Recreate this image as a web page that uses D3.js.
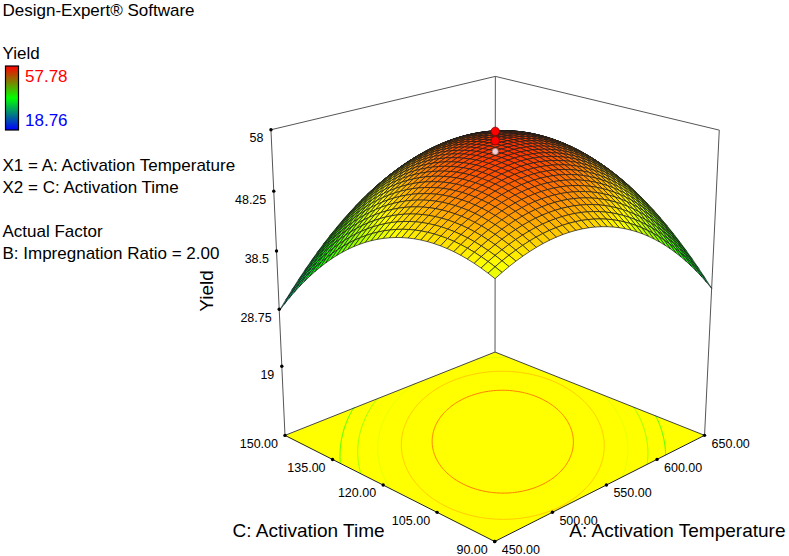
<!DOCTYPE html>
<html><head><meta charset="utf-8">
<script src="https://cdn.jsdelivr.net/npm/d3@7"></script>
<style>body{margin:0;background:#fff}svg{display:block}text{font-family:"Liberation Sans",Arial,sans-serif}</style>
</head><body>
<script>
// ---------------- data ----------------
const tempTicks = [450, 500, 550, 600, 650];
const tempTickLabels = ["450.00", "500.00", "550.00", "600.00", "650.00"];
const timeTicks = [90, 105, 120, 135, 150];
const timeTickLabels = ["90.00", "105.00", "120.00", "135.00", "150.00"];
const yieldTicks = [19, 28.75, 38.5, 48.25, 58];
const yieldTickLabels = ["19", "28.75", "38.5", "48.25", "58"];
// quadratic model in coded units (A, C in [-1, 1])
const modelTerms = ["Intercept", "A", "C", "AC", "A^2", "C^2"];
const modelCoefs = [55.8, 0.65, -1.25, 7.9, -8.75, -8.75];
// design points visible at the centre
const pointTemp = [550, 550, 550];
const pointTime = [120, 120, 120];
const pointYield = [57.78, 56.3, 54.6];
const contourLevels = [41, 44, 47, 50, 53];
const legendRange = [18.76, 57.78];
const floorYield = 6.8;
const infoLines = ["X1 = A: Activation Temperature", "X2 = C: Activation Time"];
const factorLines = ["Actual Factor", "B: Impregnation Ratio = 2.00"];

// ---------------- view calibration (cube corners -> screen) ----------------
const viewAnchors = [
  [0, 0, 0, 495, 541.7], [0, 1, 0, 284.7, 435], [1, 0, 0, 704.3, 435.3], [1, 1, 0, 495.3, 352.3],
  [0, 1, 1, 271, 130], [1, 0, 1, 719.3, 130], [1, 1, 1, 495.3, 76.3]
];
function solveLinear(M, b) {
  const n = b.length, A = M.map((r, i) => r.concat([b[i]]));
  for (let c = 0; c < n; c++) {
    let p = c; for (let r = c + 1; r < n; r++) if (Math.abs(A[r][c]) > Math.abs(A[p][c])) p = r;
    [A[c], A[p]] = [A[p], A[c]];
    for (let r = 0; r < n; r++) if (r !== c) {
      const f = A[r][c] / A[c][c];
      for (let k = c; k <= n; k++) A[r][k] -= f * A[c][k];
    }
  }
  return A.map((r, i) => r[n] / r[i]);
}
const rows = [], rhs = [];
viewAnchors.forEach(([X, Y, Z, x, y]) => {
  rows.push([X, Y, Z, 1, 0, 0, 0, 0, -x * X, -x * Y, -x * Z]); rhs.push(x);
  rows.push([0, 0, 0, 0, X, Y, Z, 1, -y * X, -y * Y, -y * Z]); rhs.push(y);
});
const NtN = d3.range(11).map(i => d3.range(11).map(j => d3.sum(rows, r => r[i] * r[j])));
const Ntb = d3.range(11).map(i => d3.sum(rows, (r, k) => r[i] * rhs[k]));
const P = solveLinear(NtN, Ntb);
function project(X, Y, Z) {
  const w = P[8] * X + P[9] * Y + P[10] * Z + 1;
  return [(P[0] * X + P[1] * Y + P[2] * Z + P[3]) / w, (P[4] * X + P[5] * Y + P[6] * Z + P[7]) / w, w];
}

// ---------------- scales ----------------
const xA = d3.scaleLinear().domain([450, 650]).range([0, 1]);
const yC = d3.scaleLinear().domain([90, 150]).range([0, 1]);
const zY = d3.scaleLinear().domain([floorYield, 58]).range([0, 1]);
const codeA = d3.scaleLinear().domain([450, 650]).range([-1, 1]);
const codeC = d3.scaleLinear().domain([90, 150]).range([-1, 1]);
const colorT = d3.scaleLinear().domain(legendRange).range([0, 1]).clamp(true);
const hueColor = v => d3.hsl(240 * (1 - colorT(v)), 1, 0.5).toString();
function model(A, C) {
  const a = codeA(A), c = codeC(C), b = modelCoefs;
  return b[0] + b[1] * a + b[2] * c + b[3] * a * c + b[4] * a * a + b[5] * c * c;
}
const pt = (A, C, Yv) => project(xA(A), yC(C), zY(Yv));

const svg = d3.select("body").append("svg").attr("width", 789).attr("height", 556);
const line = d3.line();

// ---------------- floor ----------------
const Fc = pt(450, 90, floorYield), Lc = pt(450, 150, floorYield), Rc = pt(650, 90, floorYield), Bc = pt(650, 150, floorYield);
svg.append("path").attr("d", line([Fc, Lc, Bc, Rc]) + "Z").attr("fill", "#ffff00").attr("stroke", "none");

// floor contours
const n = 121;
const gridVals = [];
const sA = d3.scaleLinear().domain([0.5, n - 0.5]).range([450, 650]).clamp(true);
const sC = d3.scaleLinear().domain([0.5, n - 0.5]).range([90, 150]).clamp(true);
for (let j = 0; j < n; j++) for (let i = 0; i < n; i++) gridVals.push(model(sA(i + 0.5), sC(j + 0.5)));
const contours = d3.contours().size([n, n]).thresholds(contourLevels)(gridVals);
contours.forEach(cg => {
  let d = "";
  cg.coordinates.forEach(poly => poly.forEach(ring => {
    let pen = false;
    for (let k = 1; k < ring.length; k++) {
      const p0 = ring[k - 1], p1 = ring[k];
      const onB = (p0[0] <= 0 && p1[0] <= 0) || (p0[0] >= n && p1[0] >= n) || (p0[1] <= 0 && p1[1] <= 0) || (p0[1] >= n && p1[1] >= n);
      if (onB) { pen = false; continue; }
      const q0 = pt(sA(p0[0]), sC(p0[1]), floorYield), q1 = pt(sA(p1[0]), sC(p1[1]), floorYield);
      if (!pen) { d += "M" + q0[0].toFixed(2) + "," + q0[1].toFixed(2); pen = true; }
      d += "L" + q1[0].toFixed(2) + "," + q1[1].toFixed(2);
    }
  }));
  svg.append("path").attr("d", d).attr("fill", "none").attr("stroke", hueColor(cg.value)).attr("stroke-width", 1);
});

// floor edges & box
const Ltop = pt(450, 150, 58), Rtop = pt(650, 90, 58), Btop = pt(650, 150, 58);
svg.append("path").attr("d", line([Lc, Fc, Rc])).attr("fill", "none").attr("stroke", "#222").attr("stroke-width", 1);
svg.append("path").attr("d", line([Lc, Bc, Rc])).attr("fill", "none").attr("stroke", "#444").attr("stroke-width", 1);
svg.append("path").attr("d", line([Lc, Ltop, Btop, Rtop, Rc])).attr("fill", "none").attr("stroke", "#555").attr("stroke-width", 1);
svg.append("path").attr("d", line([Bc, Btop])).attr("fill", "none").attr("stroke", "#555").attr("stroke-width", 1);

// ---------------- surface ----------------
const N = 36;
const gA = d3.range(N + 1).map(i => xA.invert(i / N));
const gC = d3.range(N + 1).map(j => yC.invert(j / N));
const nodes = gA.map(A => gC.map(C => { const v = model(A, C); return { v, p: pt(A, C, v) }; }));
const farIsBig = Bc[2] > Fc[2];
const cells = [];
for (let i = 0; i < N; i++) for (let j = 0; j < N; j++) {
  const q = [nodes[i][j], nodes[i + 1][j], nodes[i + 1][j + 1], nodes[i][j + 1]];
  const Am = (gA[i] + gA[i + 1]) / 2, Cm = (gC[j] + gC[j + 1]) / 2;
  const v = d3.mean(q, d => d.v);
  const w = pt(Am, Cm, v)[2];
  cells.push({ pts: q.map(d => [d.p[0], d.p[1]]), v, w });
}
cells.sort((a, b) => farIsBig ? b.w - a.w : a.w - b.w);
svg.append("g").selectAll("path").data(cells).join("path")
  .attr("d", d => line(d.pts) + "Z")
  .attr("fill", d => hueColor(d.v))
  .attr("stroke", "#1a1a1a").attr("stroke-width", 0.7).attr("stroke-linejoin", "round");

// ---------------- design points ----------------
pointYield.forEach((yv, k) => {
  const sv = model(pointTemp[k], pointTime[k]);
  const p = pt(pointTemp[k], pointTime[k], yv);
  const s = pt(pointTemp[k], pointTime[k], sv);
  if (yv >= sv) {
    svg.append("line").attr("x1", p[0]).attr("y1", p[1]).attr("x2", s[0]).attr("y2", s[1]).attr("stroke", "#444").attr("stroke-width", 1);
  }
});
pointYield.forEach((yv, k) => {
  const sv = model(pointTemp[k], pointTime[k]);
  const p = pt(pointTemp[k], pointTime[k], yv);
  if (yv >= sv) svg.append("circle").attr("cx", p[0]).attr("cy", p[1]).attr("r", 4.2).attr("fill", "#ff0000").attr("stroke", "#8b0000").attr("stroke-width", 0.8);
  else svg.append("circle").attr("cx", p[0]).attr("cy", p[1]).attr("r", 3).attr("fill", "#f3d2da").attr("stroke", "#9a8a8a").attr("stroke-width", 0.7);
});

// ---------------- axes ----------------
const tickFont = "12.5px";
yieldTicks.forEach((t, k) => {
  const p = pt(450, 150, t);
  svg.append("circle").attr("cx", p[0]).attr("cy", p[1]).attr("r", 1.7).attr("fill", "#000");
  svg.append("text").attr("x", p[0] - 7.5).attr("y", p[1] + 12.5).attr("text-anchor", "end").attr("font-size", tickFont).text(yieldTickLabels[k]);
});
timeTicks.forEach((t, k) => {
  const p = pt(450, t, floorYield);
  svg.append("circle").attr("cx", p[0]).attr("cy", p[1]).attr("r", 1.7).attr("fill", "#000");
  svg.append("text").attr("x", p[0] - 7).attr("y", p[1] + 12.3).attr("text-anchor", "end").attr("font-size", tickFont).text(timeTickLabels[k]);
});
tempTicks.forEach((t, k) => {
  const p = pt(t, 90, floorYield);
  svg.append("circle").attr("cx", p[0]).attr("cy", p[1]).attr("r", 1.7).attr("fill", "#000");
  svg.append("text").attr("x", p[0] + 7).attr("y", p[1] + 12.3).attr("text-anchor", "start").attr("font-size", tickFont).text(tempTickLabels[k]);
});
svg.append("text").attr("transform", "translate(213,291) rotate(-90)").attr("text-anchor", "middle").attr("font-size", "19px").text("Yield");
svg.append("text").attr("x", 232.5).attr("y", 536.5).attr("font-size", "19px").text("C: Activation Time");
svg.append("text").attr("x", 569.3).attr("y", 536.5).attr("font-size", "19px").text("A: Activation Temperature");

// ---------------- side panel ----------------
const pf = "17px";
svg.append("text").attr("x", 2.5).attr("y", 16).attr("font-size", pf).text("Design-Expert\u00AE Software");
svg.append("text").attr("x", 2.5).attr("y", 59.3).attr("font-size", pf).text("Yield");
const defs = svg.append("defs");
const grad = defs.append("linearGradient").attr("id", "lg").attr("x1", 0).attr("y1", 0).attr("x2", 0).attr("y2", 1);
grad.append("stop").attr("offset", "0%").attr("stop-color", "#ff0000");
grad.append("stop").attr("offset", "50%").attr("stop-color", "#00ff00");
grad.append("stop").attr("offset", "100%").attr("stop-color", "#0000ff");
svg.append("rect").attr("x", 5.5).attr("y", 66).attr("width", 13).attr("height", 64).attr("fill", "url(#lg)").attr("stroke", "#000").attr("stroke-width", 1.2);
svg.append("text").attr("x", 25).attr("y", 81.7).attr("font-size", pf).attr("fill", "#ff0000").text(legendRange[1].toFixed(2));
svg.append("text").attr("x", 25).attr("y", 126).attr("font-size", pf).attr("fill", "#0000ff").text(legendRange[0].toFixed(2));
infoLines.forEach((s, k) => svg.append("text").attr("x", 2.5).attr("y", 170.7 + k * 22.6).attr("font-size", pf).text(s));
factorLines.forEach((s, k) => svg.append("text").attr("x", 2.5).attr("y", 237.3 + k * 22).attr("font-size", pf).text(s));
</script>
</body></html>
